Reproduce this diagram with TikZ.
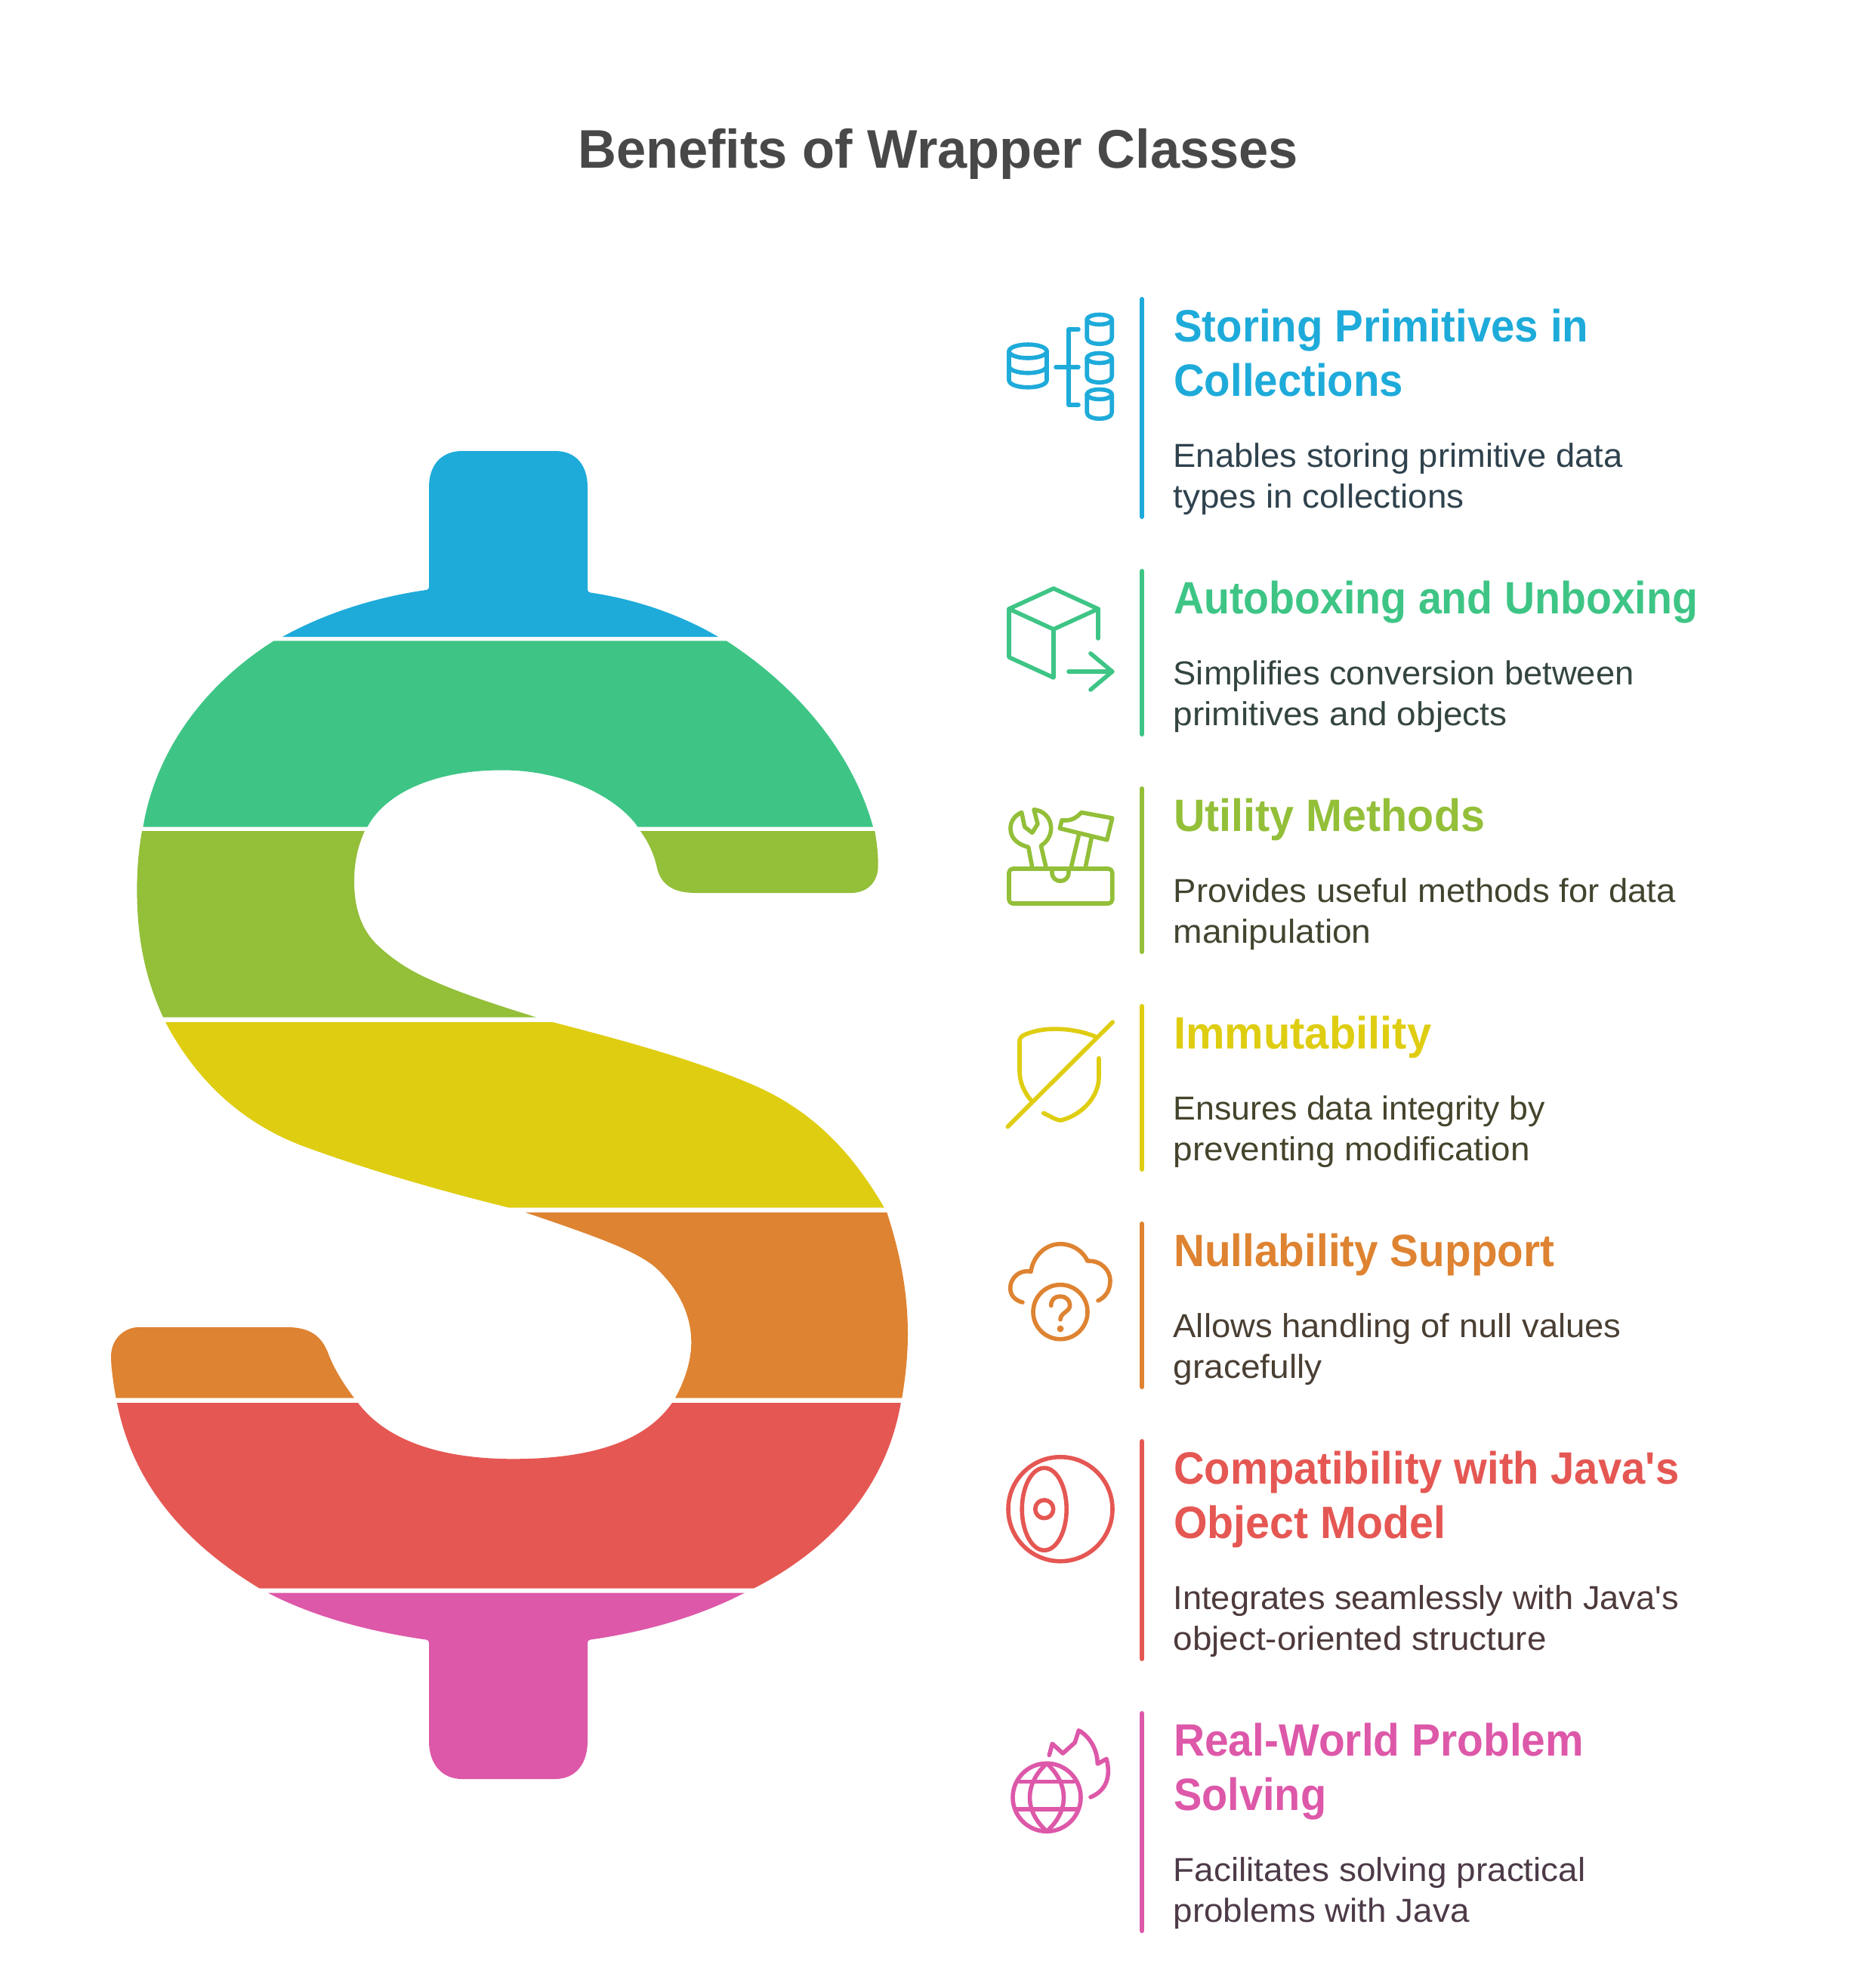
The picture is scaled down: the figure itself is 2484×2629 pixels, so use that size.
\documentclass[tikz,border=0pt]{standalone}
\usepackage{graphicx}
\usepackage{fontspec}
\setmainfont{Liberation Sans}[Ligatures=TeXOff]
\definecolor{cblue}{HTML}{1EABDA}
\definecolor{cgreen}{HTML}{3EC586}
\definecolor{colive}{HTML}{93BF39}
\definecolor{cyellow}{HTML}{DFCD12}
\definecolor{corange}{HTML}{DE8331}
\definecolor{cred}{HTML}{E55753}
\definecolor{cpink}{HTML}{DD58A9}
\definecolor{tblue}{HTML}{2F424D}
\definecolor{tgreen}{HTML}{34453F}
\definecolor{tolive}{HTML}{41452F}
\definecolor{tyellow}{HTML}{45442C}
\definecolor{torange}{HTML}{4A3F33}
\definecolor{tred}{HTML}{4E3A3B}
\definecolor{tpink}{HTML}{4D3A48}
\definecolor{ctitle}{HTML}{484848}
\newcommand{\fitw}[2]{\resizebox{#1pt}{\height}{#2}}
\tikzset{
  titletext/.style={anchor=base west,inner sep=0pt,font=\fontsize{72}{72}\selectfont\bfseries,text=ctitle},
  headtext/.style={anchor=base west,inner sep=0pt,font=\fontsize{60}{60}\selectfont\bfseries},
  desctext/.style={anchor=base west,inner sep=0pt,font=\fontsize{44}{44}\selectfont},
  vbar/.style={line width=6pt,line cap=round},
  icon/.style={line width=5.6pt,line cap=round,line join=round}
}
\begin{document}
\begin{tikzpicture}[x=1pt,y=-1pt]
\useasboundingbox (0,0) rectangle (2484,2629);
% dollar sign bands
\fill[cblue] (374,843) .. controls (430,812) and (495,791) .. (564,781) .. controls (567,780.5) and (568,780) .. (568,777) -- (568,645) .. controls (568,615) and (585,597) .. (612,597) -- (735,597) .. controls (762,597) and (778,615) .. (778,645) -- (778,780) .. controls (778,783) and (779,784) .. (782,784.5) .. controls (840,793) and (900,813) .. (951,843) -- cycle;
\fill[cgreen] (362.6,848.3) -- (961.8,848.3) .. controls (1060,912) and (1130,1000) .. (1156,1094.6) -- (844.4,1094.6) .. controls (825,1065) and (760,1019.5) .. (665,1019.5) .. controls (575,1019.5) and (510,1050) .. (486.5,1094.6) -- (189.5,1094.6) .. controls (205,1000) and (265,910) .. (362.6,848.3) -- cycle;
\fill[colive] (188,1100.2) -- (482.8,1100.2) .. controls (474,1120) and (469,1140) .. (469,1166.8) .. controls (469,1205) and (480,1232) .. (499.7,1251) .. controls (525,1275) and (550,1288) .. (569.4,1296.6) .. controls (610,1315) and (660,1331) .. (710,1346.6) -- (216,1346.6) .. controls (190,1290) and (181,1235) .. (181.4,1173.8) .. controls (181.5,1148) and (184,1122) .. (188,1100.2) -- cycle;
\fill[colive] (848,1100.2) -- (1158.3,1100.2) .. controls (1161,1115) and (1162.7,1130) .. (1162.7,1145.8) .. controls (1162.7,1168) and (1148,1182) .. (1127,1182) -- (921,1182) .. controls (890,1182) and (875,1170) .. (870,1149) .. controls (866,1130) and (858,1114) .. (848,1100.2) -- cycle;
\fill[cyellow] (219,1353) -- (731.7,1353) .. controls (820,1376) and (910,1400) .. (986.7,1431.7) .. controls (1070,1465) and (1125,1520) .. (1170.7,1598.5) -- (673.3,1598.5) .. controls (590,1578) and (490,1550) .. (400,1516.7) .. controls (330,1490) and (265,1440) .. (219,1353) -- cycle;
\fill[corange] (695.7,1605) -- (1174.4,1605) .. controls (1192,1660) and (1202,1710) .. (1202,1766) .. controls (1202,1795) and (1199,1822) .. (1194.3,1850.7) -- (894,1850.7) .. controls (908,1825) and (915.3,1800) .. (915.3,1776.7) .. controls (915.3,1740) and (898,1705) .. (866.7,1676.7) .. controls (840,1655) and (790,1637) .. (695.7,1605) -- cycle;
\fill[corange] (378.7,1756.8) .. controls (410,1756.8) and (425,1768) .. (434,1790) .. controls (442,1812) and (455,1832) .. (469,1850.7) -- (153.5,1850.7) .. controls (150,1830) and (147,1810) .. (147,1795.8) .. controls (147,1772) and (165,1756.8) .. (184.3,1756.8) -- cycle;
\fill[cred] (155,1857) -- (474,1857) .. controls (510,1905) and (580,1931.3) .. (680,1931.3) .. controls (800,1931) and (860,1900) .. (890,1857) -- (1192.8,1857) .. controls (1175,1960) and (1110,2045) .. (998.4,2102.5) -- (343.5,2102.5) .. controls (240,2040) and (175,1960) .. (155,1857) -- cycle;
\fill[cpink] (354.5,2108.5) -- (986,2108.5) .. controls (925,2140) and (855,2160) .. (782,2170.5) .. controls (779,2171) and (778,2172) .. (778,2175) -- (778,2305) .. controls (778,2335) and (762,2355) .. (735,2355) -- (612,2355) .. controls (585,2355) and (568,2335) .. (568,2305) -- (568,2175) .. controls (568,2172) and (567,2171) .. (564,2170.5) .. controls (490,2160) and (415,2140) .. (354.5,2108.5) -- cycle;
% title
\node[titletext] (title) at (765,222) {\fitw{954}{Benefits of Wrapper Classes}};
% bars
\draw[vbar,cblue] (1512,396) -- (1512,684);
\draw[vbar,cgreen] (1512,756) -- (1512,972);
\draw[vbar,colive] (1512,1044) -- (1512,1260);
\draw[vbar,cyellow] (1512,1332) -- (1512,1548);
\draw[vbar,corange] (1512,1620) -- (1512,1836);
\draw[vbar,cred] (1512,1908) -- (1512,2196);
\draw[vbar,cpink] (1512,2268) -- (1512,2556);
% texts
\node[headtext,text=cblue] (h1a) at (1554,452.4) {\fitw{549}{Storing Primitives in}};
\node[headtext,text=cblue] (h1b) at (1554,524.4) {\fitw{304}{Collections}};
\node[desctext,text=tblue] (d1a) at (1553.5,618) {\fitw{595}{Enables storing primitive data}};
\node[desctext,text=tblue] (d1b) at (1553.5,672) {\fitw{385}{types in collections}};
\node[headtext,text=cgreen] (h2a) at (1554,812.4) {\fitw{694}{Autoboxing and Unboxing}};
\node[desctext,text=tgreen] (d2a) at (1553.5,906) {\fitw{610}{Simplifies conversion between}};
\node[desctext,text=tgreen] (d2b) at (1553.5,960) {\fitw{442}{primitives and objects}};
\node[headtext,text=colive] (h3a) at (1554,1100.4) {\fitw{412}{Utility Methods}};
\node[desctext,text=tolive] (d3a) at (1553.5,1194) {\fitw{665}{Provides useful methods for data}};
\node[desctext,text=tolive] (d3b) at (1553.5,1248) {\fitw{262}{manipulation}};
\node[headtext,text=cyellow] (h4a) at (1554,1388.4) {\fitw{341}{Immutability}};
\node[desctext,text=tyellow] (d4a) at (1553.5,1482) {\fitw{492}{Ensures data integrity by}};
\node[desctext,text=tyellow] (d4b) at (1553.5,1536) {\fitw{472}{preventing modification}};
\node[headtext,text=corange] (h5a) at (1554,1676.4) {\fitw{504}{Nullability Support}};
\node[desctext,text=torange] (d5a) at (1553.5,1770) {\fitw{593}{Allows handling of null values}};
\node[desctext,text=torange] (d5b) at (1553.5,1824) {\fitw{197}{gracefully}};
\node[headtext,text=cred] (h6a) at (1554,1964.4) {\fitw{669}{Compatibility with Java's}};
\node[headtext,text=cred] (h6b) at (1554,2036.4) {\fitw{360}{Object Model}};
\node[desctext,text=tred] (d6a) at (1553.5,2130) {\fitw{669}{Integrates seamlessly with Java's}};
\node[desctext,text=tred] (d6b) at (1553.5,2184) {\fitw{494}{object-oriented structure}};
\node[headtext,text=cpink] (h7a) at (1554,2324.4) {\fitw{543}{Real-World Problem}};
\node[headtext,text=cpink] (h7b) at (1554,2396.4) {\fitw{202}{Solving}};
\node[desctext,text=tpink] (d7a) at (1553.5,2490) {\fitw{546}{Facilitates solving practical}};
\node[desctext,text=tpink] (d7b) at (1553.5,2544) {\fitw{392}{problems with Java}};
% icon 1: databases
\begin{scope}[icon,cblue]
\draw (1361,465) ellipse [x radius=25,y radius=9];
\draw (1336,465) -- (1336,503) .. controls (1336,516) and (1386,516) .. (1386,503) -- (1386,465);
\draw (1336,484) .. controls (1336,497) and (1386,497) .. (1386,484);
\foreach \cy/\by in {423/447,474/498,522/546}{
  \draw (1455.7,\cy) ellipse [x radius=16.5,y radius=6.5];
  \draw (1439.2,\cy) -- (1439.2,\by) .. controls (1439.2,\by+11) and (1472.2,\by+11) .. (1472.2,\by) -- (1472.2,\cy);
}
\draw (1428,436) -- (1415,436) -- (1415,536) -- (1428,536);
\draw (1398,486) -- (1428,486);
\end{scope}
% icon 2: box with arrow
\begin{scope}[icon,cgreen]
\draw (1336,806) -- (1395,779) -- (1454,806) -- (1395,833) -- cycle;
\draw (1336,806) -- (1336,870) -- (1395,897) -- (1395,833);
\draw (1454,806) -- (1454,845);
\draw (1415,889) -- (1472.7,889);
\draw (1444,865) -- (1472.7,889) -- (1444,913);
\end{scope}
% icon 3: toolbox
\begin{scope}[icon,colive]
\draw[rounded corners=5pt] (1336,1150) -- (1472.7,1150) -- (1472.7,1196) -- (1336,1196) -- cycle;
\draw (1393,1150) -- (1393,1155) .. controls (1393,1170) and (1415,1170) .. (1415,1155) -- (1415,1150);
\draw (1366.7,1148) -- (1361.7,1121.4) .. controls (1345,1117) and (1338,1108) .. (1338,1096.5) .. controls (1338,1087) and (1344,1079) .. (1352.7,1075.5) -- (1356.7,1094.6) -- (1366.7,1102.3) -- (1374,1090.8) -- (1369,1071.7) .. controls (1382,1073) and (1391.7,1083) .. (1391.7,1096.5) .. controls (1391.7,1106) and (1386,1115) .. (1378.3,1119.5) -- (1385,1148);
\draw (1406,1085.8) .. controls (1418,1087) and (1425,1083) .. (1431.7,1075.5) -- (1472.7,1083) -- (1465.7,1111.8) -- (1403.3,1096.5) -- cycle;
\draw (1428.3,1106) -- (1418.3,1148);
\draw (1445,1110) -- (1437.3,1148);
\end{scope}
% icon 4: shield slashed
\begin{scope}[icon,cyellow]
\draw (1334.3,1491.5) -- (1473.3,1353);
\draw (1450,1372) .. controls (1420,1360) and (1380,1358) .. (1354,1371) .. controls (1351,1373) and (1350,1375) .. (1350,1380) -- (1350,1418) .. controls (1350,1432) and (1356,1446) .. (1365,1456.3);
\draw (1455,1400.8) -- (1455,1425.7) .. controls (1455,1450) and (1435,1475) .. (1405,1483) .. controls (1398,1483) and (1390,1477) .. (1381.7,1473.5);
\end{scope}
% icon 5: cloud question
\begin{scope}[icon,corange]
\draw (1354,1724) .. controls (1343,1721) and (1337.7,1714) .. (1337.7,1705) .. controls (1337.7,1692) and (1350,1680) .. (1365,1683.3) .. controls (1368,1662) and (1385,1646.7) .. (1404,1646.7) .. controls (1420,1646.7) and (1434,1656) .. (1440,1669.3) .. controls (1458,1668) and (1470,1682) .. (1470,1695) .. controls (1470,1708) and (1464,1717) .. (1454,1721.7);
\draw (1404,1736.7) circle [radius=36];
\draw (1391.7,1728.3) .. controls (1391.7,1720) and (1397,1716) .. (1404,1716) .. controls (1411,1716) and (1416.7,1721) .. (1416.7,1728) .. controls (1416.7,1736) and (1404,1738) .. (1404,1746.7);
\fill (1404,1759) circle [radius=4.5];
\end{scope}
% icon 6: sphere
\begin{scope}[icon,cred]
\draw (1404,1997.7) circle [radius=69];
\draw (1382.7,1997.7) ellipse [x radius=29.5,y radius=54.5];
\draw (1382.7,1997.7) circle [radius=12];
\end{scope}
% icon 7: globe flame
\begin{scope}[icon,cpink]
\draw (1386,2379.3) circle [radius=45];
\draw (1386,2334.3) .. controls (1356,2362) and (1356,2397) .. (1386,2424.3) .. controls (1416,2397) and (1416,2362) .. (1386,2334.3) -- cycle;
\draw (1350,2358.3) -- (1421.7,2358.3);
\draw (1345,2395) -- (1426.7,2395);
\draw (1389.3,2323.3) -- (1393.3,2308.3) -- (1407.3,2321) -- (1423.3,2306.7) -- (1428.3,2290.7) .. controls (1442,2298) and (1453,2315) .. (1453.3,2335) -- (1465,2328.3) .. controls (1471,2350) and (1466,2370) .. (1444,2379);
\end{scope}
\end{tikzpicture}
\end{document}
